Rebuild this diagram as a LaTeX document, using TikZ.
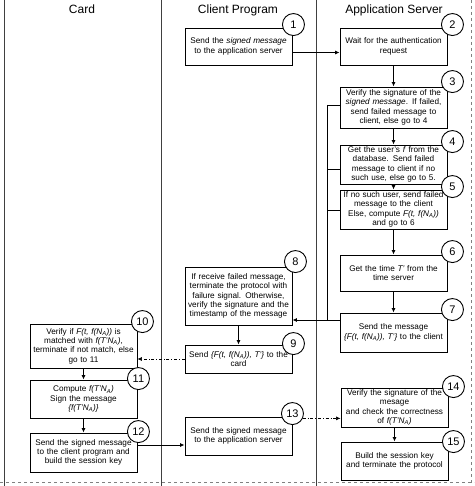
\documentclass[tikz,border=0pt]{standalone}
\usepackage{fontspec}
\setmainfont{Liberation Sans}
\usetikzlibrary{arrows.meta,calc}
\newcommand{\Fx}{\textit{F(t, f(N\textsubscript{A}))}}
\newcommand{\fT}{\textit{f(T’N\textsubscript{A})}}
\begin{document}
\begin{tikzpicture}[x=1pt,y=-1pt,
  box/.style={draw, line width=0.9pt, fill=white, text width=105pt, inner sep=1pt, align=center, font=\fontsize{8.2}{9.3}\selectfont},
  num/.style={draw, line width=0.9pt, circle, fill=white, minimum size=22pt, inner sep=0pt, font=\fontsize{11}{11}\selectfont},
  arr/.style={-{Latex[length=4.5pt,width=4pt]}, line width=0.9pt},
  link/.style={line width=0.9pt},
  lane/.style={line width=0.5pt, black!75},
  hdr/.style={font=\fontsize{12}{12}\selectfont}]
\useasboundingbox (0,0) rectangle (474,486);
\fill[white] (0,0) rectangle (474,486);
% lanes
\draw[lane] (4,0) -- (4,486);
\draw[lane] (161,0) -- (161,486);
\draw[lane] (316,0) -- (316,486);
\draw[lane, dashed, black!50] (471,0) -- (471,486);
\draw[lane, dashed, black!50] (0,482) -- (474,482);
% headers
\node[hdr] (hcard) at (82,9) {Card};
\node[hdr] (hclient) at (238,10) {Client Program};
\node[hdr] (hserver) at (394,10) {Application Server};
% client boxes
\node[box, minimum height=37pt] (b1) at (238.5,46.5) {Send the \textit{signed message}\\to the application server};
\node[box, minimum height=58pt] (b8) at (238.5,296) {If receive failed message,\\terminate the protocol with\\failure signal. Otherwise,\\verify the signature and the\\timestamp of the message};
\node[box, minimum height=28pt] (b9) at (238.5,359) {Send \textit{\{F(t, f(N\textsubscript{A})), T’\}} to the\\card};
\node[box, minimum height=38pt] (b13) at (238.5,436) {Send the signed message\\to the application server};
% server boxes
\node[box, minimum height=37pt] (b2) at (393.5,46.5) {Wait for the authentication\\request};
\node[box, minimum height=41pt] (b3) at (393.5,107.5) {Verify the signature of the\\\textit{signed message}. If failed,\\send failed message to\\client, else go to 4};
\node[box, minimum height=39pt] (b4) at (393.5,164.5) {Get the user’s \textit{f} from the\\database. Send failed\\message to client if no\\such use, else go to 5.};
\node[box, minimum height=39pt] (b5) at (393.5,209.5) {If no such user, send failed\\message to the client\\Else, compute \Fx\\and go to 6};
\node[box, minimum height=36pt] (b6) at (393.5,273) {Get the time \textit{T’} from the\\time server};
\node[box, minimum height=39pt] (b7) at (393.5,332.5) {Send the message\\\textit{\{F(t, f(N\textsubscript{A})), T’\}} to the client};
\node[box, minimum height=39pt] (b14) at (394.5,407.5) {Verify the signature of the\\mesage\\and check the correctness\\of \fT};
\node[box, minimum height=38pt] (b15) at (394.5,461) {Build the session key\\and terminate the protocol};
% card boxes
\node[box, minimum height=44pt] (b10) at (83.5,346) {Verify if \Fx{} is\\matched with \fT,\\terminate if not match, else\\go to 11};
\node[box, minimum height=38pt] (b11) at (83.5,399) {Compute \fT\\Sign the message\\\textit{\{f(T’N\textsubscript{A})\}}};
\node[box, minimum height=39pt] (b12) at (83.5,452.5) {Send the signed message\\to the client program and\\build the session key};
% connectors
\coordinate (m1) at ([yshift=-6pt]b1.east);
\draw[arr] (m1) -- (m1 -| b2.west);
\draw[arr] (b2) -- (b3);
\draw[arr] (b3) -- (b4);
\draw[arr] (b4) -- (b5);
\draw[arr] (b5) -- (b6);
\draw[arr] (b6) -- (b7);
\coordinate (f3) at (327,105);
\coordinate (f4) at (327,169);
\coordinate (f5) at (327,210);
\coordinate (j7) at (327,320);
\draw[link] (b3.west |- f3) -- (f3);
\draw[link] (b4.west |- f4) -- (f4);
\draw[link] (b5.west |- f5) -- (f5);
\draw[link] (f3) -- (j7);
\draw[arr] (b7.west |- j7) -- (b8.east |- j7);
\draw[arr] (b8) -- (b9);
\draw[arr, line width=0.6pt, dash dot] (b9.west) -- (b9.west -| b10.east);
\draw[arr] (b10) -- (b11);
\draw[arr] (b11) -- (b12);
\coordinate (m12) at ([yshift=7.5pt]b12.east);
\draw[arr] (m12) -- (m12 -| b13.west);
\draw[arr] (b14) -- (b15);
% number circles
\node[num] (c1) at ([shift={(1pt,3pt)}]b1.north east) {1};
\node[num] (c2) at ([shift={(5pt,3pt)}]b2.north east) {2};
\node[num] (c3) at ([shift={(5pt,5pt)}]b3.north east) {3};
\node[num] (c4) at ([shift={(5pt,3pt)}]b4.north east) {4};
\node[num] (c5) at ([shift={(5pt,3pt)}]b5.north east) {5};
\node[num] (c6) at ([shift={(5pt,3pt)}]b6.north east) {6};
\node[num] (c7) at ([shift={(5pt,3pt)}]b7.north east) {7};
\node[num] (c8) at ([shift={(3pt,5pt)}]b8.north east) {8};
\node[num] (c9) at ([shift={(1pt,1pt)}]b9.north east) {9};
\node[num] (c10) at ([shift={(5pt,2pt)}]b10.north east) {10};
\node[num] (c11) at ([shift={(1pt,1pt)}]b11.north east) {11};
\node[num] (c12) at ([shift={(1pt,1pt)}]b12.north east) {12};
\node[num] (c13) at ([shift={(0pt,3pt)}]b13.north east) {13};
\node[num] (c14) at ([shift={(5pt,1pt)}]b14.north east) {14};
\node[num] (c15) at ([shift={(5pt,0pt)}]b15.north east) {15};
\draw[arr, line width=0.6pt, dash dot] (c13.-25) -- (c13.-25 -| b14.west);
\end{tikzpicture}
\end{document}
